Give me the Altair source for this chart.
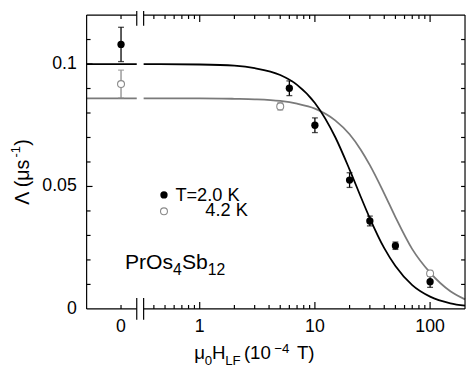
import altair as alt
import pandas as pd

# ---------------- data ----------------
black_H = [0, 6, 10, 20, 30, 50, 100]
black_L = [0.108, 0.0901, 0.075, 0.0526, 0.0359, 0.0258, 0.0111]
black_E = [0.007, 0.003, 0.003, 0.003, 0.002, 0.0015, 0.0023]

gray_H = [0, 5, 100]
gray_L = [0.0918, 0.0827, 0.0145]
gray_E = [0.0057, 0.0015, 0.0012]

curve_H = [0.326, 1, 2, 3, 5, 7, 10, 15, 20, 25, 30, 40, 50, 70, 100, 150, 201]
black_fit = [0.1, 0.0998, 0.0993, 0.0983, 0.0955, 0.0915, 0.0841, 0.0702, 0.0569,
             0.0458, 0.0370, 0.0248, 0.0175, 0.0097, 0.0050, 0.0023, 0.0013]
gray_fit = [0.086, 0.086, 0.0858, 0.0856, 0.0849, 0.0838, 0.0818, 0.0770, 0.0713,
            0.0650, 0.0587, 0.0471, 0.0375, 0.0244, 0.0148, 0.0072, 0.0039]
zero_field_span = [-0.7, 0.32]          # extent of the H = 0 segment (before the break)

y_labels = [0, 0.05, 0.1]
y_label_text = ["0", "0.05", "0.1"]
y_major = [0.05, 0.1]
y_minor = [0.01, 0.02, 0.03, 0.04, 0.06, 0.07, 0.08, 0.09, 0.11]
x_zero = [0]
x_zero_text = ["0"]
x_major = [1, 10, 100]
x_major_text = ["1", "10", "100"]
x_minor = [0.4, 0.5, 0.6, 0.7, 0.8, 0.9, 2, 3, 4, 5, 6, 7, 8, 9,
           20, 30, 40, 50, 60, 70, 80, 90]

# broken x axis: a linear scale for H = 0 and a log scale for H > 0,
# both spanning the whole plot width
lin_domain = [-0.7, 7.0]
log_domain = [0.1043, 201]
y_domain = [0, 0.12]

# ---------------- styling / layout ----------------
FONT = "Liberation Sans"
W, H = 385, 299
BL, BR = 51, 58            # break positions (px)
GRAY = "#7a7a7a"
PT_GRAY = "#8a8a8a"
LW = 1.2

black = pd.DataFrame({"H": black_H, "L": black_L, "E": black_E})
black["lo"] = black["L"] - black["E"]
black["hi"] = black["L"] + black["E"]
gray = pd.DataFrame({"H": gray_H, "L": gray_L, "E": gray_E})
gray["lo"] = gray["L"] - gray["E"]
gray["hi"] = gray["L"] + gray["E"]

one = alt.Data(values=[{"a": 0}])


def ys():
    return alt.Scale(domain=y_domain, nice=False, zero=False)


def xs_lin():
    return alt.Scale(domain=lin_domain, nice=False, zero=False)


def xs_log():
    return alt.Scale(type="log", domain=log_domain, nice=False)


def txt(s, x, y, size, align="left", angle=0, color="black"):
    kw = dict(text=s, font=FONT, fontSize=size, align=align, baseline="alphabetic",
              color=color)
    if angle:
        kw["angle"] = angle
    return alt.Chart(one).mark_text(**kw).encode(x=alt.value(x), y=alt.value(y))


def frame_rule(x, x2, y, y2):
    return alt.Chart(one).mark_rule(color="black", strokeWidth=LW).encode(
        x=alt.value(x), x2=alt.value(x2), y=alt.value(y), y2=alt.value(y2))


def yticks(vals, x, x2):
    return alt.Chart(pd.DataFrame({"v": vals})).mark_rule(color="black", strokeWidth=LW).encode(
        y=alt.Y("v:Q", scale=ys(), axis=None), x=alt.value(x), x2=alt.value(x2))


def xticks(vals, scale, y, y2):
    return alt.Chart(pd.DataFrame({"v": vals})).mark_rule(color="black", strokeWidth=LW).encode(
        x=alt.X("v:Q", scale=scale, axis=None), y=alt.value(y), y2=alt.value(y2))


def ylabels():
    df = pd.DataFrame({"v": y_labels, "t": y_label_text})
    return alt.Chart(df).mark_text(font=FONT, fontSize=18, align="right",
                                   baseline="middle", color="black").encode(
        y=alt.Y("v:Q", scale=ys(), axis=None), x=alt.value(-10), text="t:N")


def xlabels(vals, texts, scale):
    df = pd.DataFrame({"v": vals, "t": texts})
    return alt.Chart(df).mark_text(font=FONT, fontSize=18, align="center",
                                   baseline="alphabetic", color="black").encode(
        x=alt.X("v:Q", scale=scale, axis=None), y=alt.value(H + 23), text="t:N")


def points_layers(df_b, df_g, scale):
    lay = []
    for df, col in ((df_b, "black"), (df_g, PT_GRAY)):
        base = alt.Chart(df)
        lay.append(base.mark_rule(color=col, strokeWidth=1.3).encode(
            x=alt.X("H:Q", scale=scale, axis=None),
            y=alt.Y("lo:Q", scale=ys(), axis=None), y2="hi:Q"))
        for f in ("lo", "hi"):
            lay.append(base.mark_tick(color=col, orient="horizontal", size=6, thickness=1.3).encode(
                x=alt.X("H:Q", scale=scale, axis=None),
                y=alt.Y(f + ":Q", scale=ys(), axis=None)))
    lay.append(alt.Chart(df_b).mark_point(shape="circle", filled=True, color="black",
                                          size=55, opacity=1).encode(
        x=alt.X("H:Q", scale=scale, axis=None), y=alt.Y("L:Q", scale=ys(), axis=None)))
    lay.append(alt.Chart(df_g).mark_point(shape="circle", filled=False, fill="white",
                                          stroke=PT_GRAY, strokeWidth=1.1, size=50,
                                          opacity=1, fillOpacity=1).encode(
        x=alt.X("H:Q", scale=scale, axis=None), y=alt.Y("L:Q", scale=ys(), axis=None)))
    return lay


layers = []

# ---- curves ----
zero_curves = pd.DataFrame({
    "x": zero_field_span * 2,
    "v": [black_fit[0]] * 2 + [gray_fit[0]] * 2,
    "s": ["b", "b", "g", "g"],
})
curves = pd.DataFrame({"H": curve_H, "b": black_fit, "g": gray_fit})
layers += [
    alt.Chart(zero_curves[zero_curves.s == "g"]).mark_line(color=GRAY, strokeWidth=1.8).encode(
        x=alt.X("x:Q", scale=xs_lin(), axis=None), y=alt.Y("v:Q", scale=ys(), axis=None)),
    alt.Chart(zero_curves[zero_curves.s == "b"]).mark_line(color="black", strokeWidth=1.8).encode(
        x=alt.X("x:Q", scale=xs_lin(), axis=None), y=alt.Y("v:Q", scale=ys(), axis=None)),
    alt.Chart(curves).mark_line(color=GRAY, strokeWidth=1.8, interpolate="monotone").encode(
        x=alt.X("H:Q", scale=xs_log(), axis=None), y=alt.Y("g:Q", scale=ys(), axis=None)),
    alt.Chart(curves).mark_line(color="black", strokeWidth=1.8, interpolate="monotone").encode(
        x=alt.X("H:Q", scale=xs_log(), axis=None), y=alt.Y("b:Q", scale=ys(), axis=None)),
]

# ---- frame with the axis break ----
layers += [
    frame_rule(0, BL, 0, 0), frame_rule(BR, W, 0, 0),
    frame_rule(0, BL, H, H), frame_rule(BR, W, H, H),
    frame_rule(0, 0, 0, H), frame_rule(W, W, 0, H),
    frame_rule(BL, BL, -4, 11), frame_rule(BR, BR, -4, 11),
    frame_rule(BL, BL, H - 11, H + 11), frame_rule(BR, BR, H - 11, H + 11),
]

# ---- ticks and tick labels ----
layers += [
    yticks(y_major, 0, 6), yticks(y_minor, 0, 4),
    yticks(y_major + y_minor, W - 4, W),
    xticks(x_zero, xs_lin(), H, H - 4), xticks(x_zero, xs_lin(), 0, 4),
    xticks(x_major, xs_log(), H, H - 7), xticks(x_minor, xs_log(), H, H - 4),
    xticks(x_major, xs_log(), 0, 7), xticks(x_minor, xs_log(), 0, 4),
    ylabels(),
    xlabels(x_zero, x_zero_text, xs_lin()),
    xlabels(x_major, x_major_text, xs_log()),
]

# ---- data points ----
layers += points_layers(black[black.H == 0], gray[gray.H == 0], xs_lin())
layers += points_layers(black[black.H > 0], gray[gray.H > 0], xs_log())

# ---- legend ----
layers += [
    alt.Chart(one).mark_point(shape="circle", filled=True, color="black", size=55, opacity=1).encode(
        x=alt.value(78.7), y=alt.value(183)),
    txt("T=2.0 K", 90.3, 189.7, 18.5),
    alt.Chart(one).mark_point(shape="circle", filled=False, stroke=PT_GRAY, strokeWidth=1.1,
                              size=50, opacity=1).encode(x=alt.value(78.7), y=alt.value(199.7)),
    txt("4.2 K", 164, 204.7, 18.5, align="right"),
]

# ---- PrOs4Sb12 ----
layers += [
    txt("PrOs", 39, 258, 21.5),
    txt("4", 88, 265, 16),
    txt("Sb", 97, 258, 21.5),
    txt("12", 123.3, 265, 16),
]

# ---- y title  Λ (μs^-1) ----
layers += [
    txt("Λ (μs", -58.5, 193, 20, angle=270),
    txt("-1", -68, 145, 13, angle=270),
    txt(")", -58.5, 133, 20, angle=270),
]

# ---- x title  μ0 H_LF (10^-4 T) ----
TY = H + 51
layers += [
    txt("μ", 109.5, TY, 19),
    txt("0", 120.3, TY + 6, 13.5),
    txt("H", 127.5, TY, 19),
    txt("LF", 141, TY + 6, 13.5),
    txt("(10", 160, TY, 19),
    txt("\u22124", 191, TY - 6, 13.5),
    txt("T)", 214, TY, 19),
]

chart = alt.layer(*layers).resolve_scale(x="independent").properties(
    width=W, height=H,
    autosize=alt.AutoSizeParams(type="none"),
    padding={"left": 80, "top": 4, "right": 1, "bottom": 362 - 4 - H},
).configure_view(stroke=None)

chart.save("out.html", embed_options={"renderer": "svg", "actions": False})
